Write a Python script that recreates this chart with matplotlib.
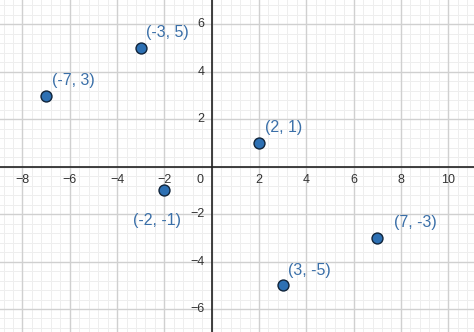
import numpy as np
import matplotlib.pyplot as plt

plt.rcParams['font.family'] = ['Liberation Sans', 'DejaVu Sans']

xs = [-7, -3, 2, -2, 7, 3]
ys = [3, 5, 1, -1, -3, -5]
labels = ["(-7, 3)", "(-3, 5)", "(2, 1)", "(-2, -1)", "(7, -3)", "(3, -5)"]
# label offsets in points (dx, dy, ha)
offsets = [(4, 11, "left"), (4, 11, "left"), (4, 11, "left"),
           (-5, -22, "center"), (12, 11, "left"), (4, 11, "left")]
xticks = [-8, -6, -4, -2, 2, 4, 6, 8, 10]
yticks = [-6, -4, -2, 2, 4, 6]

blue = "#2d70b3"
lblue = "#3a6fa8"
fig = plt.figure(figsize=(4.74, 3.32), dpi=100)
ax = fig.add_axes([0, 0, 1, 1])
ax.set_xlim(-8.95, 11.09)
ax.set_ylim(-6.97, 7.03)
for s in ax.spines.values():
    s.set_visible(False)
ax.set_xticks([]); ax.set_yticks([])

# grid
minor = 0.4
for v in np.arange(-8.8, 11.2, minor):
    if abs(round(v / 2) * 2 - v) < 1e-6:
        continue
    ax.axvline(v, color="#eeeeee", lw=0.7, zorder=0)
for v in np.arange(-6.8, 7.2, minor):
    if abs(round(v / 2) * 2 - v) < 1e-6:
        continue
    ax.axhline(v, color="#eeeeee", lw=0.7, zorder=0)
for v in range(-8, 12, 2):
    ax.axvline(v, color="#d0d0d0", lw=1.0, zorder=0.5)
for v in range(-6, 8, 2):
    ax.axhline(v, color="#d0d0d0", lw=1.0, zorder=0.5)
ax.axhline(0, color="#222222", lw=1.2, zorder=1)
ax.axvline(0, color="#222222", lw=1.2, zorder=1)

tc = "#333333"
for t in xticks:
    ax.annotate(f"{t}".replace("-", "\u2212"), (t, 0), xytext=(0, -5), textcoords="offset points",
                ha="center", va="top", fontsize=9, color=tc)
ax.annotate("0", (0, 0), xytext=(-6, -5), textcoords="offset points",
            ha="right", va="top", fontsize=9, color=tc)
for t in yticks:
    ax.annotate(f"{t}".replace("-", "\u2212"), (0, t), xytext=(-5, 0), textcoords="offset points",
                ha="right", va="center", fontsize=9, color=tc)

ax.scatter(xs, ys, s=62, color=blue, edgecolors="#10243a", linewidths=1.0, zorder=5)
for x, y, lab, (dx, dy, ha) in zip(xs, ys, labels, offsets):
    ax.annotate(lab, (x, y), xytext=(dx, dy), textcoords="offset points",
                ha=ha, va="center", fontsize=11.5, color=lblue)

fig.savefig("out.png", dpi=100)
